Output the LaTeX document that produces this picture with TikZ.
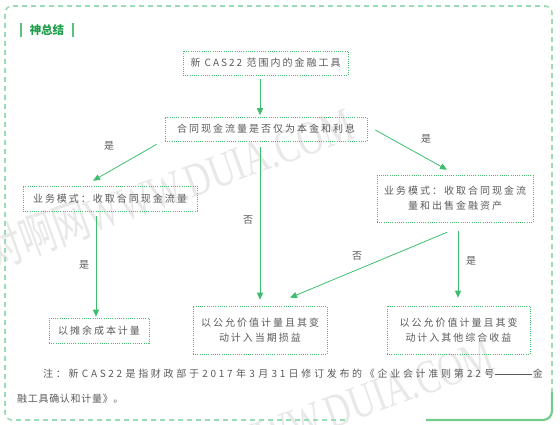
\documentclass[tikz,border=0pt]{standalone}
\usepackage{fontspec}
\usepackage{graphicx}
\setmainfont{Noto Sans CJK SC}[LetterSpace=20]
\newfontfamily\titlefont{Noto Sans CJK SC}
\newfontfamily\notefont{Noto Sans CJK SC}[LetterSpace=27]
\newfontfamily\notefontb{Noto Sans CJK SC}[LetterSpace=7]
\newfontfamily\wmlatin{Liberation Serif}
\newfontfamily\wmcjk{Noto Sans CJK SC}
\usetikzlibrary{arrows.meta}
\definecolor{boxgreen}{HTML}{45BE70}
\definecolor{arrgreen}{HTML}{3DBE6E}
\definecolor{framegreen}{HTML}{9ADDB4}
\definecolor{solidgreen}{HTML}{74CB8B}
\definecolor{titlegreen}{HTML}{1C9E4A}
\definecolor{bargreen}{HTML}{5BC07A}
\definecolor{txtgray}{HTML}{5A5A5A}
\definecolor{wmgray}{HTML}{E8E8E8}
\tikzset{
  box/.style={draw=boxgreen, line width=0.6pt, dash pattern=on 1pt off 1.2pt,
    text=txtgray, font=\fontsize{10}{15}\selectfont, align=center, inner sep=0pt},
  arr/.style={draw=arrgreen, line width=0.8pt, -{Triangle[length=7pt,width=6pt]}},
  lbl/.style={text=txtgray, font=\fontsize{10}{12}\selectfont, inner sep=0pt},
  frame/.style={draw=framegreen, line width=1.6pt, dash pattern=on 5pt off 4pt},
  wm/.style={text=wmgray, inner sep=0pt, anchor=base west, rotate=20}
}
\begin{document}
\begin{tikzpicture}[x=1pt,y=-1pt]
\useasboundingbox (0,0) rectangle (560,425);
% watermarks
\begin{scope}
\clip (0,0) rectangle (560,425);
\node[wm] (wm1) at (-6,270) {\scalebox{0.73}[1]{\fontsize{48}{48}\selectfont\wmcjk 对啊网\wmlatin WWW.DUIA.COM}};
\node[wm] (wm2) at (233,465) {\scalebox{0.73}[1]{\fontsize{48}{48}\selectfont\wmlatin WWW.DUIA.COM}};
\end{scope}
% frame
\draw[frame, rounded corners=7pt] (345,420) -- (5,420) -- (5,6) -- (552,6) -- (552,392);
\draw[draw=solidgreen, line width=2.2pt, rounded corners=9pt] (426,420) -- (552,420) -- (552,392);
% title
\node[text=titlegreen, font=\titlefont\bfseries\fontsize{11.5}{12}\selectfont, inner sep=0pt] (title) at (47,30) {神总结};
\draw[bargreen, line width=2.4pt] (21,23) -- (21,37);
\draw[bargreen, line width=2.4pt] (73,23) -- (73,37);
% boxes
\node[box, minimum width=165pt, minimum height=24pt] (b1) at (265.5,63) {新 CAS22 范围内的金融工具};
\node[box, minimum width=202pt, minimum height=24pt] (b2) at (266,129) {合同现金流量是否仅为本金和利息};
\node[box, minimum width=174pt, minimum height=25pt] (b3) at (110,198.5) {业务模式：收取合同现金流量};
\node[box, minimum width=100pt, minimum height=25pt] (b4) at (99,330.5) {以摊余成本计量};
\node[box, minimum width=134pt, minimum height=48pt] (b5) at (260,330) {以公允价值计量且其变\\动计入当期损益};
\node[box, minimum width=156pt, minimum height=47pt] (b6) at (455,198.5) {业务模式：收取合同现金流\\量和出售金融资产};
\node[box, minimum width=143pt, minimum height=48pt] (b7) at (458.5,330) {以公允价值计量且其变\\动计入其他综合收益};
% connectors
\draw[arr] ([xshift=-5.5pt,yshift=-4pt]b1.south) -- ([xshift=-6pt,yshift=1.5pt]b2.north);
\draw[arr] ([xshift=-8pt,yshift=-3pt]b2.south west) -- ([xshift=-17pt,yshift=5pt]b3.north);
\draw[arr] ([xshift=8pt,yshift=-1pt]b2.east) -- ([xshift=-8pt,yshift=5pt]b6.north);
\draw[arr] ([xshift=-6pt,yshift=-6pt]b2.south) -- ([yshift=6pt]b5.north);
\draw[arr] ([xshift=-14pt,yshift=-5pt]b3.south) -- ([xshift=-3pt,yshift=1pt]b4.north);
\draw[arr] ([xshift=-8pt,yshift=-10pt]b6.south) -- ([xshift=30pt,yshift=8pt]b5.north);
\draw[arr] ([xshift=3pt,yshift=-9pt]b6.south) -- ([xshift=-0.5pt,yshift=8pt]b7.north);
% labels
\node[lbl] (l1) at (109,146) {是};
\node[lbl] (l2) at (426,139) {是};
\node[lbl] (l3) at (248,220) {否};
\node[lbl] (l4) at (84,265) {是};
\node[lbl] (l5) at (357,256) {否};
\node[lbl] (l6) at (471,261) {是};
% note
\node[text=txtgray, font=\fontsize{10}{25}\selectfont, anchor=north west, align=left, inner sep=0pt, text width=540pt] (note) at (17,369)
  {\notefont\hspace*{26pt}注：新 CAS22 是指财政部于 2017 年 3 月 31 日修订发布的《企业会计准则第 22 号\hspace{0.5pt}\rule[3.6pt]{37pt}{0.55pt}\hspace{1pt}金\\\notefontb 融工具确认和计量》。};
\end{tikzpicture}
\end{document}
